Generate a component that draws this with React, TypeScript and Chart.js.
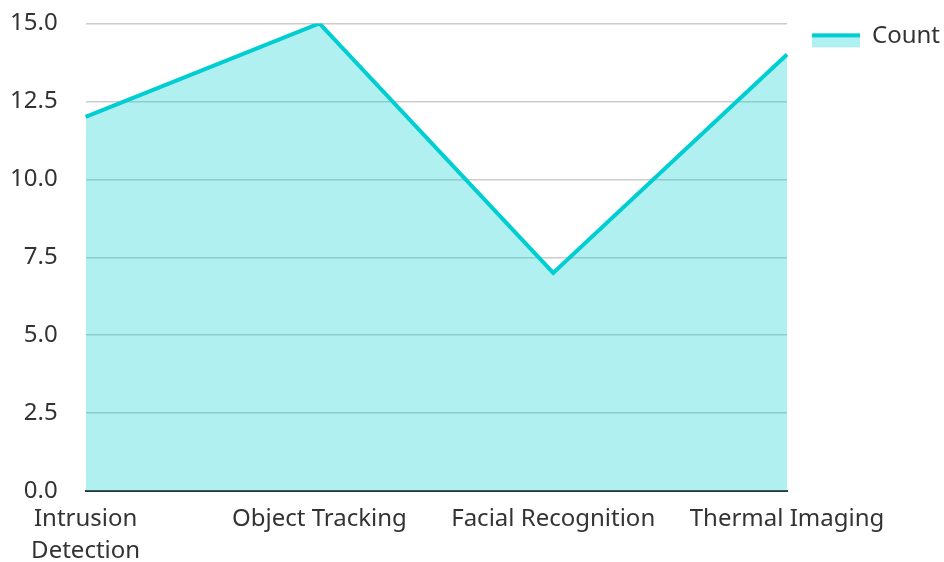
import React, { useEffect, useRef } from "react";
import { Chart, registerables } from "chart.js";

Chart.register(...registerables);

const categories: (string | string[])[] = [
  ["Intrusion", "Detection"],
  "Object Tracking",
  "Facial Recognition",
  "Thermal Imaging",
];
const seriesName = "Count";
const counts = [12, 15, 7, 14];
const yMin = 0;
const yMax = 15;
const yStep = 2.5;

const LINE = "rgb(0,206,209)";
const FILL = "rgba(0,206,209,0.31)";
const FONT = "'Noto Sans', sans-serif";
const TEXT = "#333";

const legendPlugin = {
  id: "customLegend",
  afterDraw(chart: any) {
    const { ctx, chartArea } = chart;
    const ds = chart.data.datasets[0];
    const x = chartArea.right + 25;
    const y = chartArea.top + 10;
    ctx.save();
    ctx.fillStyle = ds.backgroundColor;
    ctx.fillRect(x, y, 48, 14);
    ctx.fillStyle = ds.borderColor;
    ctx.fillRect(x, y, 48, 4);
    ctx.fillStyle = TEXT;
    ctx.font = `24px ${FONT}`;
    ctx.textBaseline = "middle";
    ctx.textAlign = "left";
    ctx.fillText(ds.label, x + 60, y + 3);
    ctx.restore();
  },
};

export default function App() {
  const ref = useRef<HTMLCanvasElement | null>(null);
  useEffect(() => {
    if (!ref.current) return;
    const chart = new Chart(ref.current, {
      type: "line",
      data: {
        labels: categories,
        datasets: [
          {
            label: seriesName,
            data: counts,
            borderColor: LINE,
            backgroundColor: FILL,
            borderWidth: 4,
            fill: "origin",
            tension: 0,
            pointRadius: 0,
            pointHoverRadius: 0,
          },
        ],
      },
      options: {
        animation: false,
        responsive: false,
        maintainAspectRatio: false,
        layout: { padding: { top: 0, right: 157, bottom: -17, left: 1 } },
        plugins: {
          tooltip: { enabled: false },
          legend: { display: false },
        },
        scales: {
          x: {
            offset: false,
            grid: { display: false, drawTicks: false },
            border: { display: true, color: "#333", width: 2 },
            ticks: {
              font: { family: FONT, size: 24, lineHeight: 1.33 },
              color: TEXT,
              padding: 12,
              maxRotation: 0,
              autoSkip: false,
            },
          },
          y: {
            min: yMin,
            max: yMax,
            grid: {
              color: "#cccccc",
              lineWidth: 1.5,
              drawTicks: true,
              tickLength: 19,
              tickColor: "rgba(0,0,0,0)",
            },
            border: { display: false },
            ticks: {
              stepSize: yStep,
              font: { family: FONT, size: 24 },
              color: TEXT,
              padding: 9,
              callback: (v: any) => Number(v).toFixed(1),
            },
          },
        },
      },
      plugins: [legendPlugin],
    });
    return () => chart.destroy();
  }, []);
  return (
    <div style={{ position: "fixed", left: 0, top: 0, width: 944, height: 562, background: "#fff" }}>
      <canvas ref={ref} width={944} height={562} style={{ width: 944, height: 562, display: "block" }} />
    </div>
  );
}
